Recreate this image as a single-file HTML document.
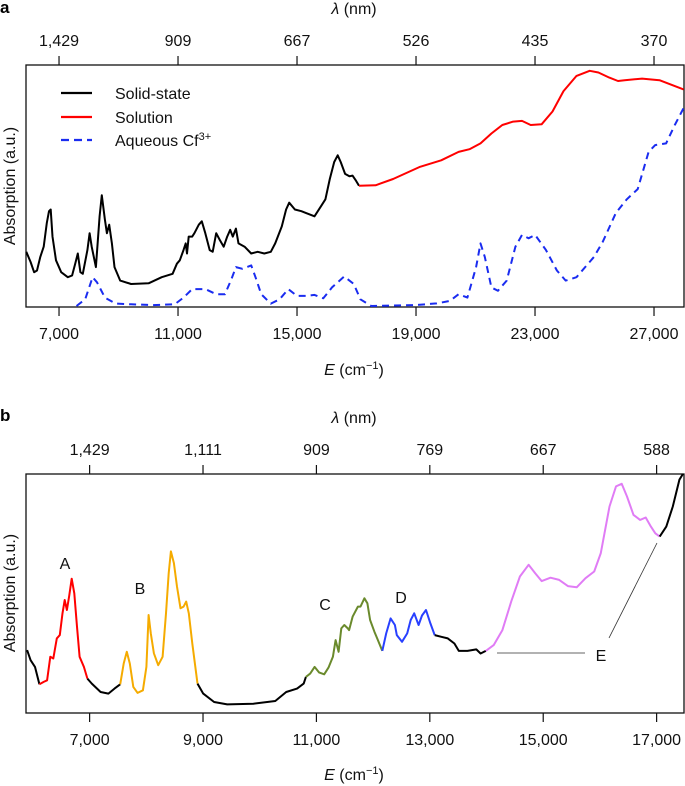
<!DOCTYPE html>
<html><head><meta charset="utf-8"><style>
html,body{margin:0;padding:0;background:#fff;}
svg{display:block;font-family:"Liberation Sans",Arial,sans-serif;}
</style></head><body>
<svg id="s" width="685" height="786" viewBox="0 0 685 786"></svg>
<script>
// ---------- Panel a data ----------
const aSolidE=[5899,6046,6163,6260,6369,6486,6589,6662,6721,6780,6897,7073,7294,7440,7543,7631,7719,7800,7954,8028,8100,8240,8365,8439,8541,8610,8688,8776,8864,9055,9422,10010,10450,10817,10964,11060,11184,11257,11301,11360,11477,11551,11698,11801,11918,12065,12167,12285,12403,12535,12652,12755,12843,12945,13033,13239,13459,13679,13900,14120,14267,14487,14634,14737,14928,15148,15295,15588,15808,15955,16102,16249,16366,16469,16615,16762,16865,16982,17085];
const aSolidV=[22.8,18.6,14.4,15.1,20.7,24.9,34.7,39.6,40.3,29.1,19.3,14.4,12.3,13.0,17.9,22.1,14.4,13.7,23.5,30.5,24.9,16.5,37.5,46.2,36.1,30.5,34.0,26.3,16.5,10.9,9.5,9.8,12.3,13.7,17.9,19.3,23.5,26.3,22.1,29.1,29.1,30.5,34.0,35.4,30.5,23.5,22.8,30.5,27.7,24.9,29.1,31.9,29.1,32.4,26.3,24.9,22.1,22.8,22.1,22.8,26.3,33.3,40.3,43.1,40.3,39.6,38.9,37.5,41.7,44.5,52.9,59.9,62.7,59.9,55.0,54.0,54.3,52.2,50.1];
const aSolnE=[17085,17643,18230,19111,19845,20432,20799,21166,21533,21900,22267,22561,22855,23222,23589,23956,24396,24837,25130,25497,25791,26012,26599,27186,27700,27994];
const aSolnV=[50.1,50.3,52.9,57.8,60.6,64.1,65.2,67.6,71.7,75.2,76.6,76.9,75.2,75.5,80.8,89.2,95.5,97.6,96.9,94.8,93.4,93.7,94.4,93.7,91.3,89.9];
const aAqE=[7587,7881,8130,8277,8541,8908,9422,10156,10890,11184,11477,11918,12285,12579,12799,12945,13165,13459,13606,13797,14120,14414,14707,15001,15295,15588,15882,16175,16586,16909,17129,17496,18964,19698,20138,20432,20726,21019,21166,21313,21533,21753,22047,22341,22561,22781,23002,23369,23736,24030,24396,24984,25277,25718,26085,26452,26819,27039,27406,27700,27994];
const aAqV=[0.4,3.2,12.3,10.2,3.9,1.4,1.1,0.8,1.1,3.9,7.4,7.4,5.3,5.3,11.6,16.5,15.8,17.2,12.3,5.3,1.4,3.2,7.4,4.6,4.6,5.0,3.6,8.1,12.6,9.5,3.2,0.4,0.8,1.5,2.5,5.3,3.9,16.5,26.3,20.7,8.1,6.7,10.9,24.9,29.8,28.4,29.8,23.5,15.1,10.9,12.3,20.7,27.0,38.9,44.5,48.7,64.1,66.9,67.6,75.2,82.2];
const aTicksE=[7000,11000,15000,19000,23000,27000];
const aTickLabels=["7,000","11,000","15,000","19,000","23,000","27,000"];
const aTopLabels=["1,429","909","667","526","435","370"];

// ---------- Panel b data ----------
const bBlack1E=[5898,5960,6037,6114];const bBlack1V=[26.3,22.1,19.3,12.0];
const bRedE=[6114,6191,6250,6307,6360,6422,6475,6522,6561,6599,6640,6684,6730,6777,6823,6900,6961];
const bRedV=[12.0,13.0,13.7,23.5,22.8,31.2,32.6,41.7,47.3,43.1,49.0,56.2,50.1,36.1,23.5,19.3,14.4];
const bBlack2E=[6961,7039,7193,7331,7439,7539];const bBlack2V=[14.4,12.3,8.8,8.1,10.2,12.0];
const bOrangeE=[7539,7601,7655,7709,7770,7847,7940,8002,8040,8079,8133,8210,8287,8348,8395,8433,8487,8541,8603,8657,8703,8749,8811,8903];
const bOrangeV=[12.0,20.7,25.6,20.7,10.9,8.4,9.5,19.3,41.0,33.3,25.0,20.0,23.5,41.7,58.5,67.6,62.7,52.9,43.8,44.5,46.6,41.7,29.1,12.3];
const bBlack3E=[8903,9003,9196,9427,9889,10275,10467,10660,10775,10814];const bBlack3V=[12.3,8.1,4.6,3.6,3.9,5.0,8.8,10.2,12.3,15.1];
const bGreenE=[10814,10891,10968,11045,11137,11214,11291,11338,11391,11438,11492,11554,11577,11639,11731,11777,11846,11900,11946,12023,12084,12162];
const bGreenV=[15.1,16.5,19.3,17.0,16.2,19.0,23.5,30.5,25.6,35.4,36.8,35.4,34.7,40.3,44.5,44.5,48.0,45.9,38.9,34.0,30.5,26.0];
const bBlueE=[12162,12231,12308,12385,12417,12509,12601,12663,12725,12802,12863,12933,13010,13087];
const bBlueV=[26.0,33.3,39.6,36.8,32.6,29.8,33.3,38.9,41.7,36.8,40.8,43.1,37.5,32.6];
const bBlack4E=[13087,13203,13318,13434,13511,13665,13819,13896,13988];const bBlack4V=[32.6,31.9,31.2,29.1,26.0,26.0,26.6,24.9,26.0];
const bVioletE=[13988,14127,14281,14435,14589,14743,14858,14974,15128,15282,15436,15591,15745,15899,16015,16169,16284,16385,16477,16592,16708,16808,16900,16977,17054];
const bVioletV=[26.0,28.4,34.7,46.6,57.1,62.0,58.5,55.2,56.6,55.7,53.1,52.6,56.4,59.2,66.9,86.4,94.8,95.9,90.6,82.9,80.8,81.8,78.0,75.2,73.8];
const bBlack5E=[17054,17170,17286,17401,17463];const bBlack5V=[73.8,78.0,86.4,97.6,100];
const bTicksE=[7000,9000,11000,13000,15000,17000];
const bTickLabels=["7,000","9,000","11,000","13,000","15,000","17,000"];
const bTopLabels=["1,429","1,111","909","769","667","588"];

const NS="http://www.w3.org/2000/svg";
const svg=document.getElementById('s');
function mk(tag,attrs,parent){const e=document.createElementNS(NS,tag);for(const k in attrs)e.setAttribute(k,attrs[k]);(parent||svg).appendChild(e);return e;}
function txt(x,y,s,size,anchor,parent){const t=mk('text',{x:x,y:y,'font-size':size,'text-anchor':anchor||'middle',fill:'#111'},parent);t.textContent=s;return t;}

function panel(p){
  const g=mk('g',{});
  
  
  const X=e=>p.x0+(e-p.e0)*(p.x1-p.x0)/(p.e1-p.e0);
  const Y=v=>p.yb-(v/100)*(p.yb-p.yt);
  const frame=mk('rect',{x:p.x0,y:p.yt,width:p.x1-p.x0,height:p.yb-p.yt,fill:'none',stroke:'#111','stroke-width':1.3},g);
  
  
  p.ticks.forEach((e,i)=>{
    const x=X(e);
    const tb=mk('line',{x1:x,x2:x,y1:p.yb,y2:p.yb+9,stroke:'#111','stroke-width':1.2},g);
    
    
    const tt=mk('line',{x1:x,x2:x,y1:p.yt,y2:p.yt-9,stroke:'#111','stroke-width':1.2},g);
    
    
    const l1=txt(x,p.yb+32,p.labels[i],16,'middle',g);
    
    
    const l2=txt(x,p.yt-19,p.top[i],16,'middle',g);
    
    
  });
  p.series.forEach(s=>{
    const d=s.e.map((e,i)=>(i?'L':'M')+X(e).toFixed(1)+','+Y(s.v[i]).toFixed(1)).join('');
    const a={d:d,fill:'none',stroke:s.c,'stroke-width':2,'stroke-linejoin':'round'};
    if(s.dash)a['stroke-dasharray']=s.dash;
    const path=mk('path',a,g);
    
    
  });
  return {X,Y,g};
}

const A=panel({name:'panel-a',x0:26,x1:684,yt:65,yb:307,e0:5890,e1:28008,ticks:aTicksE,labels:aTickLabels,top:aTopLabels,
 series:[{e:aSolidE,v:aSolidV,c:'#000',n:'solid-state-line'},{e:aSolnE,v:aSolnV,c:'#f00',n:'solution-line'},{e:aAqE,v:aAqV,c:'#1a2cf0',dash:'7,5',n:'aqueous-cf-line'}]});
const B=panel({name:'panel-b',x0:26,x1:684,yt:474,yb:713,e0:5878,e1:17483,ticks:bTicksE,labels:bTickLabels,top:bTopLabels,
 series:[{e:bBlack1E,v:bBlack1V,c:'#000',n:'black-segment-1'},{e:bRedE,v:bRedV,c:'#f00',n:'band-a-line'},{e:bBlack2E,v:bBlack2V,c:'#000',n:'black-segment-2'},{e:bOrangeE,v:bOrangeV,c:'#f5ab00',n:'band-b-line'},{e:bBlack3E,v:bBlack3V,c:'#000',n:'black-segment-3'},{e:bGreenE,v:bGreenV,c:'#6a8a2c',n:'band-c-line'},{e:bBlueE,v:bBlueV,c:'#2840ff',n:'band-d-line'},{e:bBlack4E,v:bBlack4V,c:'#000',n:'black-segment-4'},{e:bVioletE,v:bVioletV,c:'#e07cf5',n:'band-e-line'},{e:bBlack5E,v:bBlack5V,c:'#000',n:'black-segment-5'}]});

// panel letters & titles
let t;
t=mk('text',{x:0,y:13,'font-size':17,'font-weight':'bold',fill:'#000'});t.textContent='a';


t=mk('text',{x:0,y:421,'font-size':17,'font-weight':'bold',fill:'#000'});t.textContent='b';


[[14,'a'],[423,'b']].forEach(([y,k])=>{
  const tt=mk('text',{x:354,y:y,'font-size':16,'text-anchor':'middle',fill:'#111'});
  tt.innerHTML='<tspan font-style="italic">λ</tspan> (nm)';
  
  
});
[[375,'a'],[780,'b']].forEach(([y,k])=>{
  const tt=mk('text',{x:354,y:y,'font-size':16,'text-anchor':'middle',fill:'#111'});
  tt.innerHTML='<tspan font-style="italic">E</tspan> (cm<tspan dy="-6" font-size="11">−1</tspan><tspan dy="6">)</tspan>';
  
  
});
[[186,'a'],[593,'b']].forEach(([y,k])=>{
  const tt=mk('text',{x:0,y:0,'font-size':16,'text-anchor':'middle',fill:'#111',transform:'translate(15,'+y+') rotate(-90)'});
  tt.textContent='Absorption (a.u.)';
  
  
});

// legend
[[93,'#000','','Solid-state','legend-solid-state'],[117,'#f00','','Solution','legend-solution'],[140,'#1a2cf0','8,5','Aqueous Cf','legend-aqueous']].forEach(([y,c,d,s,n])=>{
  const lg=mk('g',{});
  
  
  const a={x1:61,x2:92,y1:y,y2:y,stroke:c,'stroke-width':2.2};if(d)a['stroke-dasharray']=d;
  mk('line',a,lg);
  const tt=mk('text',{x:115,y:y+6,'font-size':16,fill:'#111'},lg);
  tt.textContent=s;
  if(n==='legend-aqueous'){const sp=mk('tspan',{dy:-6,'font-size':11},tt);sp.textContent='3+';}
});

// band labels panel b
[['A',65,569],['B',140,594],['C',325,610],['D',401,603],['E',601,661]].forEach(([s,x,y])=>{
  const tt=txt(x,y,s,16,'middle');
  
  
});
let ln=mk('line',{x1:497,y1:653,x2:585,y2:653,stroke:'#333','stroke-width':0.8});


ln=mk('line',{x1:609,y1:638,x2:657,y2:543,stroke:'#333','stroke-width':0.8});


</script>
</body></html>
